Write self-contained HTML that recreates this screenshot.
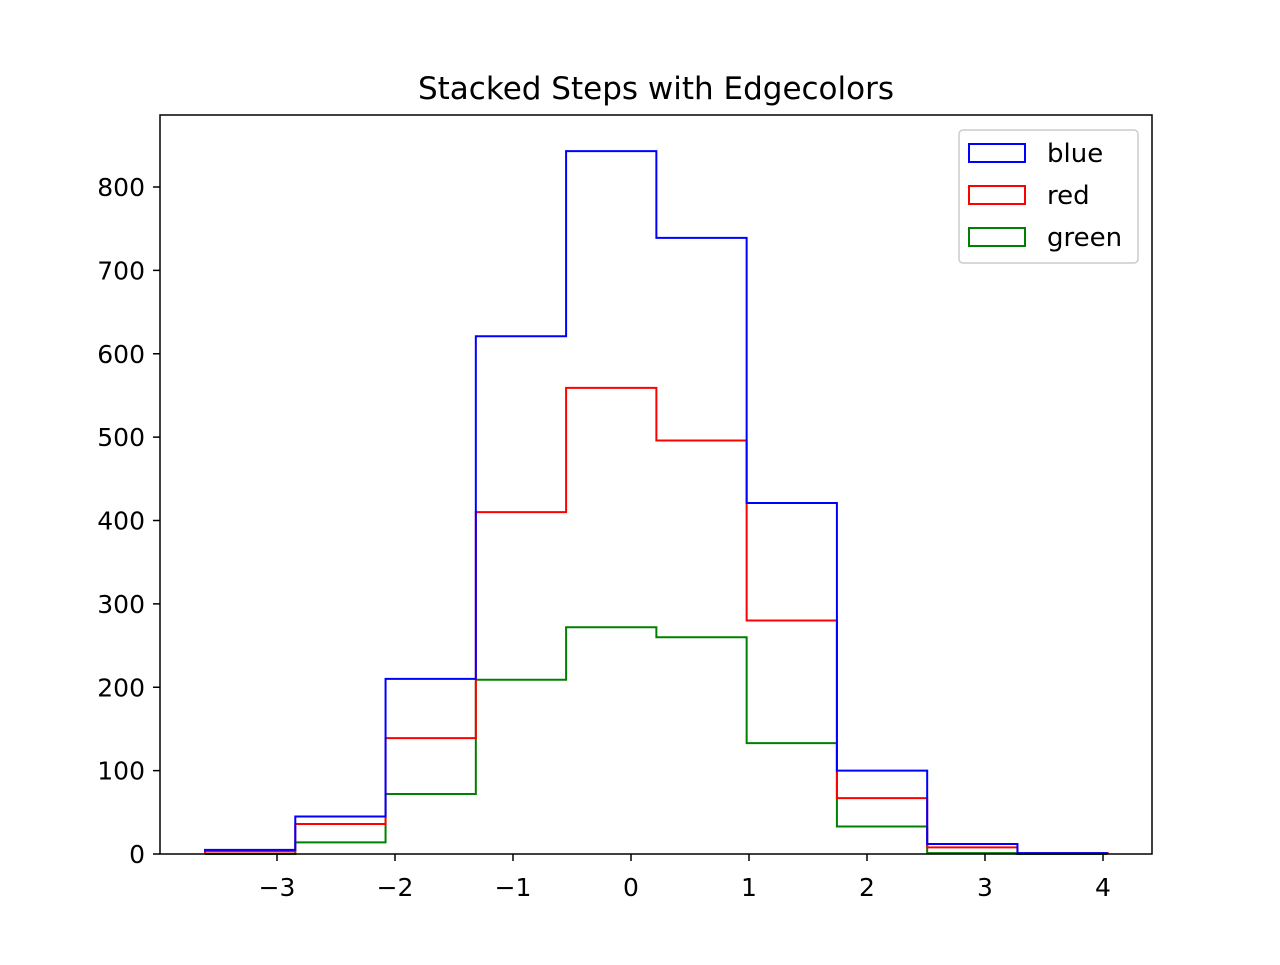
<!DOCTYPE html>
<html><head><meta charset="utf-8"><style>body{margin:0;background:#fff}svg text{font-family:"DejaVu Sans","Liberation Sans",sans-serif}</style></head>
<body>
<svg id="chart" width="1280" height="960">
<rect width="1280" height="960" fill="#fff"/>
<text x="656" y="99" font-size="31" text-anchor="middle">Stacked Steps with Edgecolors</text>
<g id="series"></g>
<g id="axes"></g>
<g>
<rect x="959" y="130" width="179" height="133" rx="4" fill="#fff" stroke="#ccc" stroke-width="1.5"/>
<rect x="969" y="144" width="56" height="18" fill="none" stroke="blue" stroke-width="2"/>
<text x="1047" y="162" font-size="26">blue</text>
<rect x="969" y="186" width="56" height="18" fill="none" stroke="red" stroke-width="2"/>
<text x="1047" y="204" font-size="26">red</text>
<rect x="969" y="228" width="56" height="18" fill="none" stroke="green" stroke-width="2"/>
<text x="1047" y="246" font-size="26">green</text>
</g>
</svg>
<script>
const binEdges = [-3.61,-2.845,-2.08,-1.315,-0.55,0.215,0.98,1.745,2.51,3.275,4.04];
const greenCounts = [0,14,72,209,272,260,133,33,1,0];
const redCounts = [3,22,67,201,287,236,147,34,7,1];
const blueCounts = [2,9,71,211,284,243,141,33,4,0];
const seriesNames = ['green','red','blue'];
const xTicks = [-3,-2,-1,0,1,2,3,4];
const yTicks = [0,100,200,300,400,500,600,700,800];
const L=160,R=1152,T=115,B=854;
const sx=v=>631+v*118.0;
const sy=v=>854-v*(667/800);
const NS='http://www.w3.org/2000/svg';
const series=document.getElementById('series');
const all=[greenCounts,redCounts,blueCounts];
let base=greenCounts.map(()=>0);
all.forEach((c,si)=>{
  const top=c.map((v,i)=>base[i]+v);
  let pts=[[sx(binEdges[0]),sy(base[0])]];
  top.forEach((v,i)=>{pts.push([sx(binEdges[i]),sy(v)]);pts.push([sx(binEdges[i+1]),sy(v)]);});
  pts.push([sx(binEdges[binEdges.length-1]),sy(base[base.length-1])]);
  const p=document.createElementNS(NS,'polyline');
  p.setAttribute('points',pts.map(q=>q.join(',')).join(' '));
  p.setAttribute('fill','none');p.setAttribute('stroke',seriesNames[si]);p.setAttribute('stroke-width','2');
  
  
  series.appendChild(p);
  base=top;
});
const ax=document.getElementById('axes');
function el(t,a,txt){const e=document.createElementNS(NS,t);for(const k in a)e.setAttribute(k,a[k]);if(txt!==undefined)e.textContent=txt;ax.appendChild(e);return e;}
const frame=el('rect',{x:L,y:T,width:R-L,height:B-T,fill:'none',stroke:'#000','stroke-width':1.5});


xTicks.forEach(v=>{const x=sx(v);
  const t=el('line',{x1:x,x2:x,y1:B,y2:B+7,stroke:'#000','stroke-width':1.5});
  
  
  const l=el('text',{x:x,y:B+42,'font-size':25,'text-anchor':'middle'},v<0?'\u2212'+(-v):String(v));
  
  
});
yTicks.forEach(v=>{const y=sy(v);
  const t=el('line',{x1:L-7,x2:L,y1:y,y2:y,stroke:'#000','stroke-width':1.5});
  
  
  const l=el('text',{x:L-15,y:y+9,'font-size':25,'text-anchor':'end'},String(v));
  
  
});
</script>
</body></html>
